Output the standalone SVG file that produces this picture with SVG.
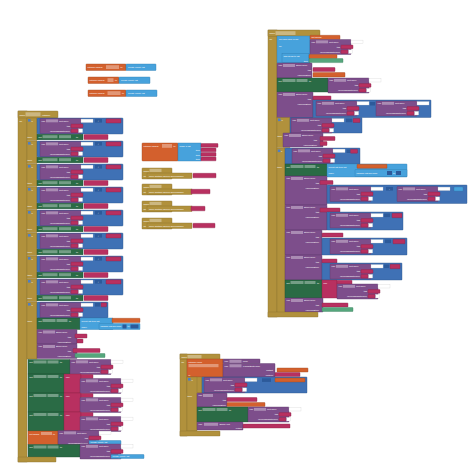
<svg xmlns="http://www.w3.org/2000/svg" width="474" height="474" viewBox="0 0 474 474">
<style>
.g{fill:#B1913C;stroke:#8C7230;stroke-width:.4}
.p{fill:#7D4E8B;stroke:#5E3A6A;stroke-width:.4}
.b{fill:#3F71B5;stroke:#2E558A;stroke-width:.4}
.m{fill:#B83060;stroke:#8A2448;stroke-width:.4}
.dg{fill:#2A6B45;stroke:#1E4F33;stroke-width:.4}
.o{fill:#D3602D;stroke:#A04820;stroke-width:.4}
.lb{fill:#47A2DC;stroke:#2F7DB0;stroke-width:.4}
.t{fill:#55A67C;stroke:#3D8060;stroke-width:.4}
.w{fill:#fff;stroke:#ccc;stroke-width:.3}
.nb{fill:#fff;fill-opacity:.35}
.op{fill:#2D5A9A}
.gear{fill:#4F7FC4}
text{font-family:'Liberation Sans',Arial,sans-serif;font-size:2.3px;fill:#fff}
.e{text-anchor:end}
</style>
<defs>
<g id="gv">
<rect class="p" x="0" y="0" width="41" height="15" rx=".6"/>
<text x="1.5" y="3.2">call</text>
<rect class="nb" x="6" y="0.9" width="12" height="2.9"/>
<text x="19" y="3.2">GetValue</text>
<text class="e" x="30" y="8.2">tag</text>
<text class="e" x="30" y="13">valueIfTagNotThere</text>
<rect class="w" x="41" y="0.6" width="12" height="3.4"/>
<rect class="m" x="31" y="5.6" width="12" height="3.6" rx=".5"/>
<rect class="m" x="31" y="10.4" width="7" height="3.6" rx=".5"/>
<rect class="w" x="38.6" y="10.4" width="4" height="3.6"/>
</g>
<g id="uL">
<rect class="g" x="27" y="0" width="10" height="22.5"/>
<rect class="gear" x="28" y="1" width="2.6" height="2.6"/>
<text x="31.5" y="3.5">if</text>
<text x="27.6" y="19.8">then</text>
<rect class="b" x="37" y="0" width="86" height="16" rx=".8"/>
<use href="#gv" x="40" y="0.5"/>
<rect class="op" x="95" y="1" width="7" height="3.6"/>
<text x="98.5" y="3.6" text-anchor="middle">≠</text>
<rect class="m" x="106" y="0.8" width="15" height="4.2" rx=".6"/>
<rect class="dg" x="37" y="16.2" width="46" height="5.6"/>
<text x="38.5" y="19.8">set</text>
<rect class="nb" x="42.5" y="17.2" width="15" height="3"/>
<rect class="nb" x="59" y="17.2" width="12" height="3"/>
<text x="76" y="19.8">to</text>
<rect class="m" x="84" y="16.5" width="24" height="5" rx=".6"/>
</g>
<g id="sv">
<text x="1.5" y="3.4">call</text>
<rect class="nb" x="6" y="1" width="12" height="3"/>
<text x="19" y="3.4">StoreValue</text>
<text class="e" x="34" y="8.2">tag</text>
<text class="e" x="34" y="13">valueToStore</text>
</g>
<g id="setL">
<text x="1.5" y="3.6">set</text>
<rect class="nb" x="5.5" y="1" width="13" height="3"/>
<rect class="nb" x="19.5" y="1" width="11" height="3"/>
<text x="32" y="3.6">to</text>
</g>
</defs>

<g id="globals">
<g id="glob1">
<rect class="o" x="86" y="64" width="40" height="6.5" rx=".6"/>
<text x="87.5" y="68.2">initialize global</text>
<rect class="nb" x="106" y="65.2" width="13" height="3.8"/>
<text x="120.5" y="68.2">to</text>
<rect class="lb" x="126" y="64" width="30" height="6.5" rx=".6"/>
<text x="128" y="68.2">create empty list</text>
</g>
<g id="glob2">
<rect class="o" x="88" y="77" width="31" height="6.5" rx=".6"/>
<text x="89.5" y="81.2">initialize global</text>
<rect class="nb" x="107.5" y="78.2" width="6" height="3.8"/>
<text x="115" y="81.2">to</text>
<rect class="lb" x="119" y="77" width="31" height="6.5" rx=".6"/>
<text x="121" y="81.2">create empty list</text>
</g>
<g id="glob3">
<rect class="o" x="88" y="90" width="38" height="6.5" rx=".6"/>
<text x="89.5" y="94.2">initialize global</text>
<rect class="nb" x="107.5" y="91.2" width="13" height="3.8"/>
<text x="122" y="94.2">to</text>
<rect class="lb" x="126" y="90" width="31" height="6.5" rx=".6"/>
<text x="128" y="94.2">create empty list</text>
</g>
</g>

<g id="evLeft">
<rect class="g" x="18" y="111" width="9" height="351"/>
<rect class="g" x="18" y="111" width="40" height="7" rx=".8"/>
<text x="19.5" y="115.5">when</text>
<rect class="nb" x="25.5" y="112.3" width="15" height="4"/>
<text x="42" y="115.5">Initialize</text>
<text x="19.5" y="121.5">do</text>
<use href="#uL" y="118"/>
<use href="#uL" y="141"/>
<use href="#uL" y="164"/>
<use href="#uL" y="187"/>
<use href="#uL" y="210"/>
<use href="#uL" y="233"/>
<use href="#uL" y="256"/>
<use href="#uL" y="279"/>
<g id="ifLast">
<rect class="g" x="27" y="302" width="10" height="57"/>
<rect class="gear" x="28" y="303" width="2.6" height="2.6"/>
<text x="31.5" y="305.5">if</text>
<rect class="b" x="37" y="302" width="71" height="16" rx=".8"/>
<use href="#gv" x="40" y="302.5"/>
<rect class="op" x="95" y="303" width="5" height="3.6"/>
<rect class="m" x="101" y="302.8" width="5.5" height="4" rx=".5"/>
<text x="27.6" y="322">then</text>
<rect class="dg" x="37" y="318" width="43" height="11.5"/>
<use href="#setL" x="37" y="318"/>
<rect class="lb" x="80" y="318" width="33" height="11.5" rx=".6"/>
<text x="81.5" y="321.5">select list item list</text>
<text x="81.5" y="327.5">index</text>
<rect class="o" x="112" y="318.3" width="28" height="4.2" rx=".5"/>
<rect class="lb" x="99" y="323.5" width="41" height="6" rx=".5"/>
<text x="100.5" y="327.3">random integer from</text>
<rect class="op" x="122.5" y="324.5" width="4" height="4"/>
<text x="127.5" y="327.3">to</text>
<rect class="op" x="130.5" y="324.5" width="8" height="4"/>
<rect class="p" x="37" y="329.5" width="40" height="14.5" rx=".6"/>
<use href="#sv" x="37" y="329.5"/>
<rect class="m" x="75" y="334" width="12" height="4" rx=".5"/>
<rect class="m" x="77" y="339" width="6" height="4" rx=".5"/>
<rect class="p" x="37" y="344" width="40" height="14.5" rx=".6"/>
<use href="#sv" x="37" y="344"/>
<rect class="m" x="73" y="348.5" width="27" height="4" rx=".5"/>
<rect class="t" x="75" y="353.5" width="30" height="4" rx=".5"/>
</g>
<g id="setA">
<rect class="dg" x="28" y="359.5" width="42" height="14.5"/>
<use href="#setL" x="28" y="359.5"/>
<use href="#gv" x="70" y="359.5"/>
</g>
<g id="setJ1">
<rect class="dg" x="28" y="374" width="36" height="19"/>
<use href="#setL" x="28" y="374"/>
<rect class="m" x="64" y="374" width="17" height="19"/>
<text x="66" y="377.5">join</text>
<rect class="m" x="81" y="374.5" width="12" height="4" rx=".5"/>
<use href="#gv" x="80" y="378.5"/>
</g>
<g id="setJ2">
<rect class="dg" x="28" y="393" width="36" height="19"/>
<use href="#setL" x="28" y="393"/>
<rect class="m" x="64" y="393" width="17" height="19"/>
<text x="66" y="396.5">join</text>
<rect class="m" x="81" y="393.5" width="12" height="4" rx=".5"/>
<use href="#gv" x="80" y="397.5"/>
</g>
<g id="setJ3">
<rect class="dg" x="28" y="412" width="36" height="19"/>
<use href="#setL" x="28" y="412"/>
<rect class="m" x="64" y="412" width="17" height="19"/>
<text x="66" y="415.5">join</text>
<rect class="m" x="81" y="412.5" width="12" height="4" rx=".5"/>
<use href="#gv" x="80" y="416.5"/>
</g>
<g id="setGlobal">
<rect class="o" x="28" y="431" width="30" height="13.5"/>
<text x="29.5" y="434.6">set global</text>
<rect class="nb" x="41" y="432" width="11" height="3"/>
<text x="53" y="434.6">to</text>
<use href="#gv" x="58" y="430.5"/>
<rect class="lb" x="89" y="440.5" width="32" height="4" rx=".5"/>
<text x="90.5" y="443.3">create empty list</text>
</g>
<g id="setB">
<rect class="dg" x="28" y="444.5" width="52" height="12.5"/>
<use href="#setL" x="28" y="444.5"/>
<use href="#gv" x="80" y="444"/>
<rect class="lb" x="111" y="454.5" width="33" height="4" rx=".5"/>
<text x="112.5" y="457.3">create empty list</text>
</g>
<rect class="g" x="18" y="457" width="38" height="5" rx=".6"/>
</g>

<g id="globList">
<rect class="o" x="142" y="143" width="36" height="18" rx=".8"/>
<text x="143.5" y="147">initialize global</text>
<rect class="nb" x="162" y="144" width="10" height="3.8"/>
<text x="173.5" y="147">to</text>
<rect class="lb" x="178" y="143" width="23" height="18"/>
<text x="179.5" y="147">make a list</text>
<text class="e" x="200" y="151.3">item</text>
<text class="e" x="200" y="155.6">item</text>
<text class="e" x="200" y="159.9">item</text>
<rect class="m" x="201" y="143.5" width="17" height="3.8" rx=".5"/>
<rect class="m" x="201" y="148" width="15" height="3.8" rx=".5"/>
<rect class="m" x="201" y="152.5" width="15" height="3.8" rx=".5"/>
<rect class="m" x="201" y="157" width="15" height="3.8" rx=".5"/>
</g>

<g id="evScr1">
<rect class="g" x="142" y="168" width="30" height="11" rx=".6"/>
<text x="143.5" y="171.5">when</text>
<rect class="nb" x="149.5" y="168.8" width="12" height="3.3"/>
<text x="143.5" y="177">do</text>
<rect class="g" x="147" y="173" width="45" height="5.5"/>
<text x="149" y="176.6">open another screen screenName</text>
<rect class="m" x="193" y="173.3" width="23" height="4.5" rx=".5"/>
</g>
<g id="evScr2">
<rect class="g" x="142" y="184" width="30" height="11" rx=".6"/>
<text x="143.5" y="187.5">when</text>
<rect class="nb" x="149.5" y="184.8" width="12" height="3.3"/>
<text x="143.5" y="193">do</text>
<rect class="g" x="147" y="189" width="45" height="5.5"/>
<text x="149" y="192.6">open another screen screenName</text>
<rect class="m" x="191" y="189.3" width="19" height="4.5" rx=".5"/>
</g>
<g id="evScr3">
<rect class="g" x="142" y="201" width="30" height="11" rx=".6"/>
<text x="143.5" y="204.5">when</text>
<rect class="nb" x="149.5" y="201.8" width="12" height="3.3"/>
<text x="143.5" y="210">do</text>
<rect class="g" x="147" y="206" width="45" height="5.5"/>
<text x="149" y="209.6">open another screen screenName</text>
<rect class="m" x="191" y="206.3" width="14" height="4.5" rx=".5"/>
</g>
<g id="evScr4">
<rect class="g" x="142" y="218" width="30" height="11" rx=".6"/>
<text x="143.5" y="221.5">when</text>
<rect class="nb" x="149.5" y="218.8" width="12" height="3.3"/>
<text x="143.5" y="227">do</text>
<rect class="g" x="147" y="223" width="45" height="5.5"/>
<text x="149" y="226.6">open another screen screenName</text>
<rect class="m" x="193" y="223.3" width="22" height="4.5" rx=".5"/>
</g>

<g id="evRight">
<rect class="g" x="268" y="30" width="9" height="287"/>
<rect class="g" x="268" y="30" width="52" height="6.5" rx=".8"/>
<text x="269.5" y="34.3">when</text>
<rect class="nb" x="275.5" y="31.2" width="20" height="3.8"/>
<text x="269.5" y="40">do</text>
<g id="forEach">
<rect class="lb" x="277" y="36" width="33" height="27" rx=".6"/>
<text x="279" y="39.5">for each item in list</text>
<text x="279" y="47">do</text>
<rect class="lb" x="282" y="53.5" width="27" height="9"/>
<text x="283.5" y="57">add items to list</text>
<text class="e" x="308" y="61.5">item</text>
<rect class="o" x="310" y="35.3" width="30" height="4.2" rx=".5"/>
<text x="311.5" y="38.3">get global</text>
<use href="#gv" x="310" y="39.5"/>
<rect class="o" x="309" y="54.5" width="28" height="4" rx=".5"/>
<rect class="t" x="309" y="58.6" width="34" height="4" rx=".5"/>
</g>
<rect class="p" x="277" y="63" width="35" height="15" rx=".6"/>
<use href="#sv" x="277" y="63"/>
<rect class="m" x="313" y="67.5" width="22" height="4" rx=".5"/>
<rect class="o" x="313" y="72.5" width="32" height="4.5" rx=".5"/>
<rect class="dg" x="277" y="78" width="51" height="14"/>
<use href="#setL" x="277" y="78"/>
<use href="#gv" x="328" y="78"/>
<rect class="p" x="277" y="92" width="36" height="26" rx=".6"/>
<use href="#sv" x="277" y="92"/>
<rect class="m" x="313" y="96" width="18" height="4" rx=".5"/>
<rect class="b" x="313" y="100" width="118" height="17.5" rx=".6"/>
<use href="#gv" x="316" y="101"/>
<rect class="op" x="370" y="102" width="5" height="3.5"/>
<use href="#gv" x="376" y="101"/>
<g id="ifR1">
<rect class="g" x="277" y="117.5" width="13" height="30"/>
<rect class="gear" x="278" y="118.5" width="2.6" height="2.6"/>
<text x="281.5" y="121">if</text>
<rect class="b" x="290" y="117.5" width="72" height="15.5" rx=".6"/>
<use href="#gv" x="291" y="118"/>
<rect class="op" x="346" y="118.7" width="6" height="3.5"/>
<rect class="m" x="353" y="118.5" width="7" height="4" rx=".5"/>
<text x="277.6" y="137">then</text>
<rect class="p" x="283" y="133" width="40" height="14" rx=".6"/>
<use href="#sv" x="283" y="133"/>
<rect class="m" x="320" y="136.5" width="15" height="4" rx=".5"/>
<rect class="m" x="320" y="141.5" width="7" height="4" rx=".5"/>
</g>
<g id="ifR2">
<rect class="g" x="277" y="148" width="8" height="165"/>
<rect class="gear" x="277.8" y="149.5" width="2.6" height="2.6"/>
<text x="281" y="152">if</text>
<rect class="b" x="285" y="148" width="75" height="16" rx=".6"/>
<use href="#gv" x="292" y="148.5"/>
<rect class="op" x="346.5" y="149.5" width="3.5" height="3.5"/>
<rect class="m" x="350.5" y="149.2" width="7" height="4" rx=".5"/>
<text x="277.3" y="168">then</text>
<rect class="dg" x="285" y="164" width="42" height="12"/>
<use href="#setL" x="285" y="164"/>
<rect class="lb" x="327" y="164" width="80" height="13" rx=".6"/>
<text x="328.5" y="167.5">select list item list</text>
<text x="328.5" y="174">index</text>
<rect class="o" x="357" y="164.3" width="30" height="4" rx=".5"/>
<rect class="lb" x="355" y="169.5" width="52" height="7" rx=".5"/>
<text x="356.5" y="174">random integer from</text>
<rect class="op" x="387" y="171" width="5" height="4"/>
<text x="393" y="174">to</text>
<rect class="op" x="396" y="171" width="5" height="4"/>
<rect class="p" x="285" y="176" width="42" height="29" rx=".6"/>
<use href="#sv" x="285" y="176"/>
<rect class="m" x="320" y="180.5" width="13" height="4" rx=".5"/>
<rect class="b" x="327" y="185" width="140" height="18.5" rx=".6"/>
<use href="#gv" x="330" y="186.5"/>
<rect class="op" x="386" y="187" width="7" height="3.6"/>
<text x="389.5" y="189.6" text-anchor="middle">+</text>
<use href="#gv" x="397" y="186.5"/>
<rect class="lb" x="454" y="187" width="9" height="4" rx=".5"/>
<rect class="p" x="285" y="205" width="42" height="25" rx=".6"/>
<use href="#sv" x="285" y="205"/>
<rect class="m" x="320" y="208" width="20" height="4" rx=".5"/>
<rect class="b" x="327" y="212" width="76" height="18" rx=".6"/>
<use href="#gv" x="330" y="213"/>
<rect class="op" x="384" y="213.5" width="6" height="3.6"/>
<rect class="m" x="392" y="213.3" width="10" height="4.4" rx=".5"/>
<rect class="p" x="285" y="230" width="37" height="25" rx=".6"/>
<use href="#sv" x="285" y="230"/>
<rect class="m" x="322" y="233" width="21" height="4" rx=".5"/>
<rect class="b" x="322" y="238" width="85" height="17" rx=".6"/>
<use href="#gv" x="330" y="239"/>
<rect class="op" x="385" y="239.5" width="6" height="3.6"/>
<rect class="m" x="393" y="239.3" width="12" height="4.4" rx=".5"/>
<rect class="p" x="285" y="255" width="37" height="25" rx=".6"/>
<use href="#sv" x="285" y="255"/>
<rect class="m" x="322" y="259" width="15" height="4" rx=".5"/>
<rect class="b" x="322" y="263" width="80" height="17" rx=".6"/>
<use href="#gv" x="330" y="264"/>
<rect class="op" x="384" y="264.5" width="5" height="3.6"/>
<rect class="m" x="390" y="264.3" width="10" height="4.4" rx=".5"/>
<rect class="dg" x="285" y="280" width="37" height="18"/>
<use href="#setL" x="285" y="280"/>
<rect class="m" x="322" y="280" width="15" height="18"/>
<text x="323.5" y="283.5">join</text>
<rect class="m" x="337" y="280.3" width="15" height="4" rx=".5"/>
<use href="#gv" x="337" y="284"/>
<rect class="p" x="285" y="298" width="38" height="14" rx=".6"/>
<use href="#sv" x="285" y="298"/>
<rect class="m" x="322" y="303" width="26" height="4" rx=".5"/>
<rect class="t" x="322" y="307.5" width="31" height="4" rx=".5"/>
</g>
<rect class="g" x="268" y="312" width="50" height="5" rx=".6"/>
</g>

<g id="evBottom">
<rect class="g" x="180" y="354" width="7" height="82"/>
<rect class="g" x="180" y="354" width="40" height="5.5" rx=".6"/>
<text x="181.5" y="357.8">when</text>
<rect class="nb" x="187.5" y="355" width="14" height="3.5"/>
<text x="181.5" y="362.5">do</text>
<rect class="o" x="187" y="359" width="36" height="18"/>
<text x="188.5" y="362.5">initialize local</text>
<rect class="nb" x="188.5" y="364" width="30" height="3.2"/>
<text x="188.5" y="375.5">in</text>
<rect class="p" x="223" y="359" width="37" height="4.5" rx=".5"/>
<text x="224.5" y="362.3">call</text>
<rect class="nb" x="229.5" y="359.8" width="12" height="3"/>
<text x="243" y="362.3">Now</text>
<rect class="p" x="223" y="363.5" width="52" height="13.5" rx=".5"/>
<text x="224.5" y="366.8">call</text>
<rect class="nb" x="229.5" y="364.3" width="12" height="3"/>
<text x="243" y="366.8">FormatDateTime</text>
<text class="e" x="273" y="371">instant</text>
<text class="e" x="273" y="375.5">pattern</text>
<rect class="o" x="277" y="368" width="31" height="4" rx=".5"/>
<rect class="m" x="275" y="372.5" width="25" height="4" rx=".5"/>
<rect class="g" x="187" y="377" width="15" height="16"/>
<rect class="g" x="187" y="377" width="10" height="54"/>
<rect class="gear" x="188" y="378" width="2.6" height="2.6"/>
<text x="191.5" y="380.5">if</text>
<rect class="b" x="202" y="377" width="105" height="16" rx=".6"/>
<use href="#gv" x="204" y="377.5"/>
<rect class="op" x="262" y="378.3" width="9" height="3.6"/>
<rect class="o" x="275" y="378" width="30" height="4" rx=".5"/>
<text x="187.6" y="396.5">then</text>
<rect class="p" x="197" y="393" width="30" height="14" rx=".6"/>
<text x="198.5" y="396.4">call</text>
<rect class="nb" x="203" y="394" width="10" height="3"/>
<text class="e" x="226" y="400.8">tag</text>
<text class="e" x="226" y="405.5">valueToStore</text>
<rect class="m" x="227" y="397.5" width="30" height="4" rx=".5"/>
<rect class="o" x="227" y="402.5" width="38" height="4" rx=".5"/>
<rect class="dg" x="197" y="407" width="51" height="15"/>
<use href="#setL" x="197" y="407"/>
<use href="#gv" x="248" y="407"/>
<rect class="p" x="197" y="422" width="46" height="8" rx=".6"/>
<text x="198.5" y="425.3">call</text>
<rect class="nb" x="204" y="422.8" width="14" height="3"/>
<text x="219.5" y="425.3">ShowAlert</text>
<text class="e" x="242" y="429.3">notice</text>
<rect class="m" x="243" y="424" width="47" height="4" rx=".5"/>
<rect class="g" x="180" y="431" width="40" height="5" rx=".6"/>
</g>

<g id="connectors"/>
</svg>
